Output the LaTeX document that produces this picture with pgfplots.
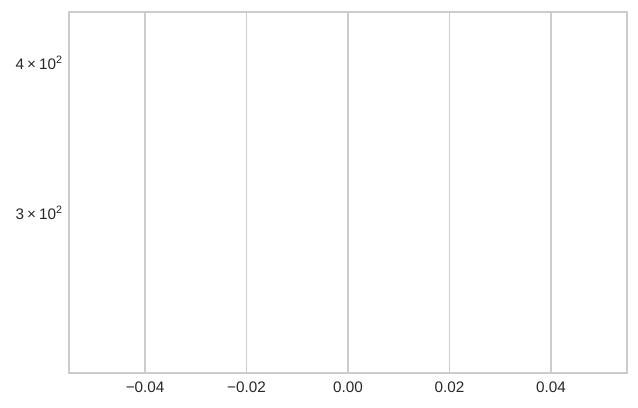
\documentclass[border=0pt]{standalone}
\usepackage{fontspec}
\setmainfont{Liberation Sans}
\usepackage{pgfplots}
\pgfplotsset{compat=1.18}
\definecolor{gridgray}{HTML}{CCCCCC}
\definecolor{labelgray}{HTML}{262626}
\begin{document}
\begin{tikzpicture}
% page = 638x407 px, 1 px = 0.72pt; plot box 558x361 px at (69,34) px from lower left
\path[use as bounding box] (-49.68pt,-24.48pt) rectangle (409.68pt,268.56pt);
\begin{axis}[
  at={(0,0)}, anchor=south west,
  scale only axis,
  width=401.76pt, height=259.92pt,
  ymode=log,
  xmin=-0.055, xmax=0.055,
  ymin=220.8, ymax=441,
  scaled ticks=false,
  xtick={-0.04,-0.02,0,0.02,0.04},
  xticklabels={−0.04,−0.02,0.00,0.02,0.04},
  ytick={300,400},
  yticklabels={3\hspace{0.2em}×\hspace{0.2em}10\textsuperscript{2},4\hspace{0.2em}×\hspace{0.2em}10\textsuperscript{2}},
  minor ytick={},
  log basis y=10,
  xmajorgrids=true,
  ymajorgrids=false,
  grid style={gridgray, line width=0.9pt},
  axis line style={gridgray, line width=0.9pt},
  major tick length=0pt,
  minor tick length=0pt,
  tick label style={font=\fontsize{11}{13}\selectfont, text=labelgray},
  /pgf/number format/assume math mode=true,
  xticklabel style={yshift=-3pt},
  yticklabel style={xshift=-1pt},
]
\addplot[draw=none, forget plot] coordinates {(0,300)};
\end{axis}
\end{tikzpicture}
\end{document}
